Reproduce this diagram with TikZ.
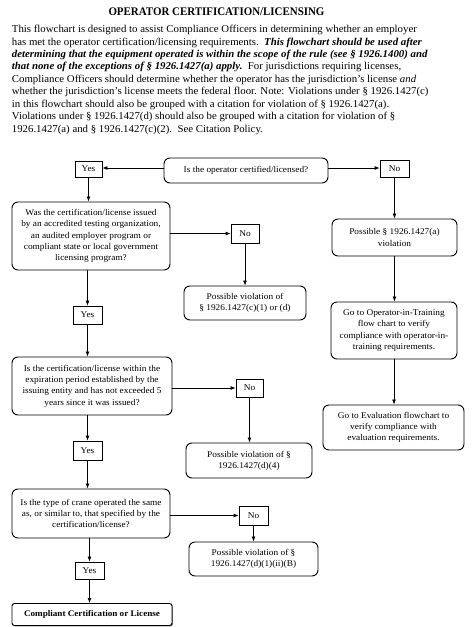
\documentclass[tikz,border=0pt]{standalone}
\usepackage{fontspec}
\usepackage{graphicx}
\setmainfont{Liberation Serif}
\newfontfamily\boxfam{Liberation Serif}[FakeStretch=1.06]
\newcommand{\bi}[1]{{\bfseries\itshape #1}}
\newcommand{\fitline}[2]{\resizebox{#1}{\height}{#2}}
\usetikzlibrary{arrows.meta,shadows}
\begin{document}
\begin{tikzpicture}[x=1pt,y=-1pt,
  box/.style={draw, rounded corners=6pt, line width=0.9pt, align=center,
    font=\boxfam\fontsize{8.8}{11.3}\selectfont, inner sep=0pt},
  lab/.style={draw, line width=0.8pt, font=\boxfam\fontsize{8.8}{11.3}\selectfont, inner sep=0pt},
  arr/.style={-{Latex[length=5pt,width=4pt]}, line width=0.8pt},
  bodyline/.style={anchor=base west, inner sep=0pt, font=\fontsize{10.5}{12.4}\selectfont}]
\useasboundingbox (0,0) rectangle (474,627);
\fill[white] (0,0) rectangle (474,627);

\node[font=\fontsize{11.6}{12.4}\selectfont\bfseries, anchor=base west, inner sep=0pt] (title) at (108.3,15) {\fitline{216pt}{OPERATOR CERTIFICATION/LICENSING}};
\node[bodyline] (l1) at (11.7,32.7) {\fitline{405pt}{This flowchart is designed to assist Compliance Officers in determining whether an employer}};
\node[bodyline] (l2) at (11.7,45.1) {\fitline{410pt}{has met the operator certification/licensing requirements.\ \ \bi{This flowchart should be used after}}};
\node[bodyline] (l3) at (11.7,57.5) {\fitline{415.6pt}{\bi{determining that the equipment operated is within the scope of the rule (see § 1926.1400) and}}};
\node[bodyline] (l4) at (11.7,69.9) {\fitline{389.3pt}{\bi{that none of the exceptions of § 1926.1427(a) apply.}\ \ For jurisdictions requiring licenses,}};
\node[bodyline] (l5) at (11.7,82.3) {\fitline{404.3pt}{Compliance Officers should determine whether the operator has the jurisdiction’s license \textit{and}}};
\node[bodyline] (l6) at (11.7,94.8) {\fitline{416.6pt}{whether the jurisdiction’s license meets the federal floor. Note: Violations under § 1926.1427(c)}};
\node[bodyline] (l7) at (11.7,107.2) {\fitline{377.3pt}{in this flowchart should also be grouped with a citation for violation of § 1926.1427(a).}};
\node[bodyline] (l8) at (11.7,119.6) {\fitline{383.3pt}{Violations under § 1926.1427(d) should also be grouped with a citation for violation of §}};
\node[bodyline] (l9) at (11.7,132.0) {\fitline{251pt}{1926.1427(a) and § 1926.1427(c)(2).\ \ See Citation Policy.}};

% question 1
\node[box, minimum width=164pt, minimum height=25pt] (q1) at (246,170.5) {Is the operator certified/licensed?};
\node[lab, minimum width=27pt, minimum height=16pt] (y1) at (88.5,169) {Yes};
\node[lab, minimum width=29pt, minimum height=17pt] (n1) at (394.5,168.5) {No};

% question 2
\node[box, minimum width=158pt, minimum height=68pt] (q2) at (91,236) {Was the certification/license issued\\by an accredited testing organization,\\an audited employer program or\\compliant state or local government\\licensing program?};
\node[lab, minimum width=28pt, minimum height=19pt] (n2) at (245,233.5) {No};
\node[box, minimum width=122pt, minimum height=34pt] (pv1) at (245,303) {Possible violation of\\§ 1926.1427(c)(1) or (d)};
\node[lab, minimum width=29pt, minimum height=18pt] (y2) at (87.5,315) {Yes};

% right column
\node[box, minimum width=125pt, minimum height=37pt] (pa) at (394.5,237.5) {Possible § 1926.1427(a)\\violation};
\node[box, minimum width=126pt, minimum height=57pt] (oit) at (394,330.5) {Go to Operator-in-Training\\flow chart to verify\\compliance with operator-in-\\training requirements.};
\node[box, minimum width=141pt, minimum height=45pt] (ev) at (393.5,427.5) {Go to Evaluation flowchart to\\verify compliance with\\evaluation requirements.};

% question 3
\node[box, minimum width=160pt, minimum height=58pt] (q3) at (92,386) {Is the certification/license within the\\expiration period established by the\\issuing entity and has not exceeded 5\\years since it was issued?};
\node[lab, minimum width=27pt, minimum height=18pt] (n3) at (249.5,388) {No};
\node[box, minimum width=126pt, minimum height=35pt] (pv2) at (249,460.5) {Possible violation of §\\1926.1427(d)(4)};
\node[lab, minimum width=29pt, minimum height=19pt] (y3) at (87.5,450.5) {Yes};

% question 4
\node[box, minimum width=158pt, minimum height=49pt] (q4) at (91,513.5) {Is the type of crane operated the same\\as, or similar to, that specified by the\\certification/license?};
\node[lab, minimum width=29pt, minimum height=19pt] (n4) at (253.5,515.5) {No};
\node[box, minimum width=129pt, minimum height=34pt] (pv3) at (253.5,559) {Possible violation of §\\1926.1427(d)(1)(ii)(B)};
\node[lab, minimum width=29pt, minimum height=17pt] (y4) at (89.5,570.5) {Yes};
\node[box, rounded corners=2.5pt, fill=white, drop shadow={shadow xshift=0.9pt, shadow yshift=-0.9pt, opacity=0.8, fill=black!70},
  minimum width=160pt, minimum height=22pt, font=\boxfam\fontsize{8.6}{11.3}\selectfont\bfseries] (fin) at (92,614.5) {Compliant Certification or License};

% arrows
\draw[arr] (q1.west |- 0,168) -- (y1.east |- 0,168);
\draw[arr] (q1.east |- 0,168) -- (n1.west |- 0,168);
\draw[arr] (y1.south) -- (y1.south |- q2.north);
\draw[arr] (q2.east |- n2) -- (n2.west);
\draw[arr] (n2.south) -- (n2.south |- pv1.north);
\draw[arr] (q2.south -| y2) -- (y2.north);
\draw[arr] (n1.south) -- (n1.south |- pa.north);
\draw[arr] (pa.south) -- (pa.south |- oit.north);
\draw[arr] (oit.south) -- (oit.south |- ev.north);
\draw[arr] (y2.south) -- (y2.south |- q3.north);
\draw[arr] (q3.east |- n3) -- (n3.west);
\draw[arr] (n3.south) -- (n3.south |- pv2.north);
\draw[arr] (q3.south -| y3) -- (y3.north);
\draw[arr] (y3.south) -- (y3.south |- q4.north);
\draw[arr] (q4.east |- n4) -- (n4.west);
\draw[arr] (n4.south) -- (n4.south |- pv3.north);
\draw[arr] (q4.south -| y4) -- (y4.north);
\draw[arr] (y4.south) -- (y4.south |- fin.north);
\end{tikzpicture}
\end{document}
